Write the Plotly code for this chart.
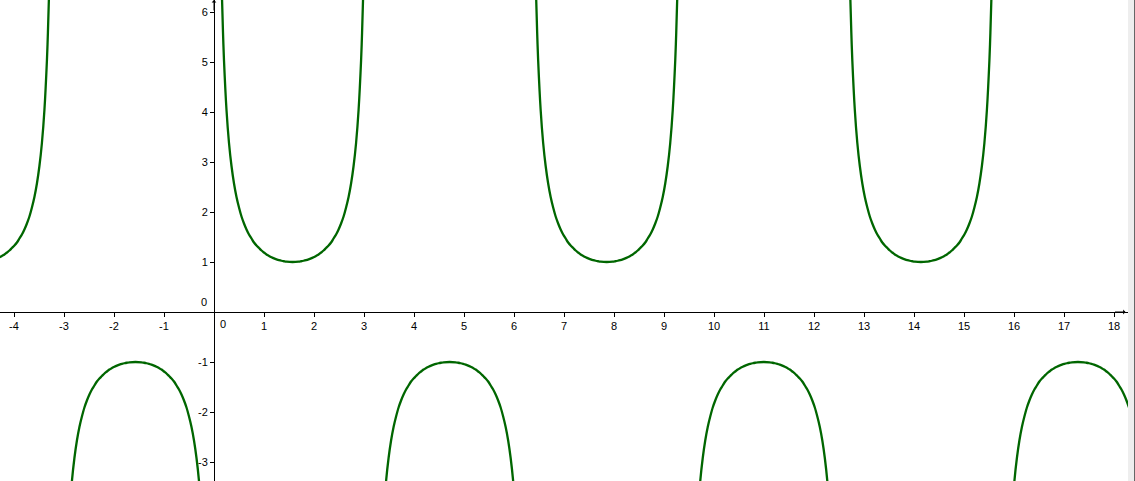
import plotly.graph_objects as go

# ---- data (graph of y = csc x) ----
# one hump profile: offset from the hump's start and height
hump_offsets = [0.16, 0.18, 0.20, 0.25, 0.30, 0.35, 0.40, 0.45, 0.50, 0.55, 0.60, 0.65,
                0.70, 0.75, 0.80, 0.85, 0.90, 0.95, 1.00, 1.05, 1.10, 1.15, 1.20, 1.25,
                1.30, 1.35, 1.40, 1.45, 1.5708, 1.6916, 1.7416, 1.7916, 1.8416, 1.8916,
                1.9416, 1.9916, 2.0416, 2.0916, 2.1416, 2.1916, 2.2416, 2.2916, 2.3416,
                2.3916, 2.4416, 2.4916, 2.5416, 2.5916, 2.6416, 2.6916, 2.7416, 2.7916,
                2.8416, 2.8916, 2.9416, 2.9616, 2.9816]
upper_heights = [6.28, 5.59, 5.03, 4.04, 3.38, 2.92, 2.57, 2.30, 2.09, 1.91, 1.77, 1.65,
                 1.55, 1.47, 1.39, 1.33, 1.28, 1.23, 1.19, 1.15, 1.122, 1.096, 1.073, 1.054,
                 1.038, 1.025, 1.015, 1.007, 1.00, 1.007, 1.015, 1.025, 1.038, 1.054,
                 1.073, 1.096, 1.122, 1.15, 1.19, 1.23, 1.28, 1.33, 1.39,
                 1.47, 1.55, 1.65, 1.77, 1.91, 2.09, 2.30, 2.57, 2.92,
                 3.38, 4.04, 5.03, 5.59, 6.28]
lower_heights = [-6.28, -5.59, -5.03, -4.04, -3.38, -2.92, -2.57, -2.30, -2.09, -1.91, -1.77, -1.65,
                 -1.55, -1.47, -1.39, -1.33, -1.28, -1.23, -1.19, -1.15, -1.122, -1.096, -1.073, -1.054,
                 -1.038, -1.025, -1.015, -1.007, -1.00, -1.007, -1.015, -1.025, -1.038, -1.054,
                 -1.073, -1.096, -1.122, -1.15, -1.19, -1.23, -1.28, -1.33, -1.39,
                 -1.47, -1.55, -1.65, -1.77, -1.91, -2.09, -2.30, -2.57, -2.92,
                 -3.38, -4.04, -5.03, -5.59, -6.28]
upper_starts = [-6.2832, 0.0, 6.2832, 12.5664]
lower_starts = [-3.1416, 3.1416, 9.4248, 15.708]

x_ticks = [-4, -3, -2, -1, 1, 2, 3, 4, 5, 6, 7, 8, 9, 10, 11, 12, 13, 14, 15, 16, 17, 18]
x_tick_labels = ["-4", "-3", "-2", "-1", "1", "2", "3", "4", "5", "6", "7", "8", "9",
                 "10", "11", "12", "13", "14", "15", "16", "17", "18"]
y_ticks = [-3, -2, -1, 1, 2, 3, 4, 5, 6]
y_tick_labels = ["-3", "-2", "-1", "1", "2", "3", "4", "5", "6"]

x_range = [-4.28, 18.28]
y_range = [-3.38, 6.24]

W, H = 1135, 481
R_MARGIN = 7
CURVE = "#006600"

fig = go.Figure()
for starts, heights in ((upper_starts, upper_heights), (lower_starts, lower_heights)):
    for s in starts:
        fig.add_trace(go.Scatter(
            x=[s + t for t in hump_offsets], y=heights, mode="lines",
            line=dict(color=CURVE, width=2.3, shape="spline", smoothing=1.0),
            hoverinfo="skip", showlegend=False))

plot_w = W - R_MARGIN
y_pos = (0 - y_range[0]) / (y_range[1] - y_range[0])
x_pos = (0 - x_range[0]) / (x_range[1] - x_range[0])

font = dict(family="Liberation Sans, Arial, sans-serif", size=11, color="#000000")

fig.update_layout(
    width=W, height=H,
    margin=dict(l=0, r=R_MARGIN, t=0, b=0, pad=0, autoexpand=False),
    paper_bgcolor="white", plot_bgcolor="white",
    showlegend=False,
    xaxis=dict(range=x_range, anchor="free", position=y_pos, showgrid=False,
               zeroline=False, showline=True, linecolor="black", linewidth=1,
               tickmode="array", tickvals=x_ticks, ticktext=x_tick_labels,
               ticks="outside", ticklen=4, automargin=False,
               tickcolor="black", tickfont=font, fixedrange=True),
    yaxis=dict(range=y_range, anchor="free", position=x_pos, showgrid=False,
               zeroline=False, showline=True, linecolor="black", linewidth=1,
               tickmode="array", tickvals=y_ticks, ticktext=y_tick_labels,
               ticks="outside", ticklen=4, automargin=False,
               tickcolor="black", tickfont=font, fixedrange=True),
)

# the two "0" labels placed beside the origin, as GeoGebra does
fig.add_annotation(x=0, y=0, xref="x", yref="y", text="0", showarrow=False,
                   xanchor="left", yanchor="top", xshift=4, yshift=-4, font=font)
fig.add_annotation(x=0, y=0, xref="x", yref="y", text="0", showarrow=False,
                   xanchor="right", yanchor="bottom", xshift=-5, yshift=2, font=font)

# axis arrow heads
fig.add_annotation(x=x_range[1] - 0.05, y=0, ax=-12, ay=0, xref="x", yref="y",
                   text="", showarrow=True, arrowhead=1, arrowsize=0.8,
                   arrowwidth=1, arrowcolor="black")
fig.add_annotation(x=0, y=y_range[1], ax=0, ay=12, xref="x", yref="y",
                   text="", showarrow=True, arrowhead=1, arrowsize=0.8,
                   arrowwidth=1, arrowcolor="black")

# grey strip at the right edge of the view
fig.add_shape(type="rect", xref="paper", yref="paper",
              x0=1, x1=1 + (R_MARGIN - 1) / plot_w, y0=0, y1=1,
              fillcolor="#eeeeee", line=dict(width=0), layer="above")
fig.add_shape(type="rect", xref="paper", yref="paper",
              x0=1 + (R_MARGIN - 1) / plot_w, x1=1 + R_MARGIN / plot_w, y0=0, y1=1,
              fillcolor="#666666", line=dict(width=0), layer="above")

fig.write_html("out.html", config=dict(displayModeBar=False),
               post_script="document.body.style.margin='0';document.body.style.overflow='hidden';")
